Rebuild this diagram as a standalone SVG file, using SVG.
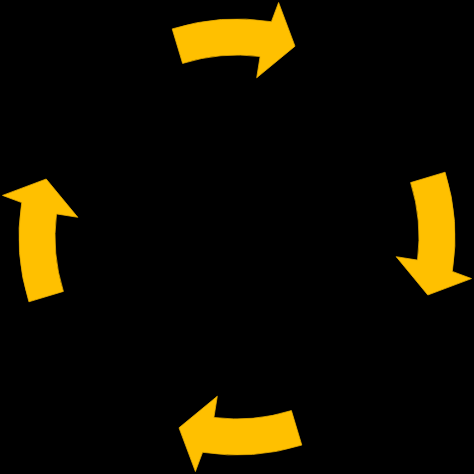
<svg xmlns="http://www.w3.org/2000/svg" xmlns:xlink="http://www.w3.org/1999/xlink" width="474" height="474" viewBox="0 0 474 474">
<style>.arrow{fill:#FFC000;stroke:#E6AC00;stroke-width:0.8;stroke-linejoin:miter}</style>
<defs>
<path id="arw" d="M172.2,28.9 A218,218 0 0 1 271.4,21.7 L278.6,2.5 L295,46.2 L256.7,77.8 L260.1,56.5 A182,182 0 0 0 182.6,63.4 Z"/>
</defs>
<rect width="474" height="474" fill="#000"/>
<g id="connectors">
<g id="arrow-top"><use xlink:href="#arw" href="#arw" class="arrow"/></g>
<g id="arrow-right"><use xlink:href="#arw" href="#arw" class="arrow" transform="rotate(90 237 237)"/></g>
<g id="arrow-bottom"><use xlink:href="#arw" href="#arw" class="arrow" transform="rotate(180 237 237)"/></g>
<g id="arrow-left"><use xlink:href="#arw" href="#arw" class="arrow" transform="rotate(270 237 237)"/></g>
</g>
</svg>
